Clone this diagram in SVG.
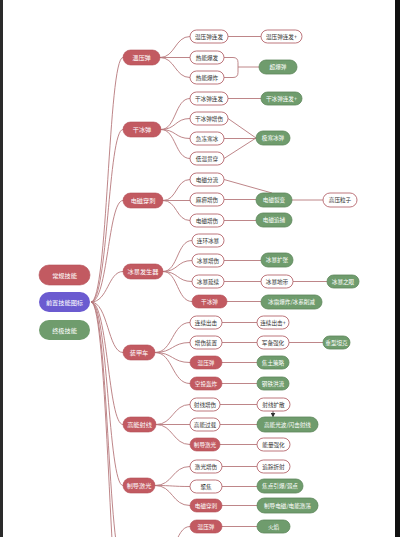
<svg xmlns="http://www.w3.org/2000/svg" width="400" height="537" viewBox="0 0 400 537">
<style>
.e{fill:none;stroke:#b7787c;stroke-width:0.9}
.r rect{fill:#c25a61;stroke:#b34e55;stroke-width:0.6}
.w rect{fill:#fff;stroke:#b5676d;stroke-width:0.9}
.g rect{fill:#6f9c6d;stroke:#5d865b;stroke-width:0.8}
.p rect{fill:#6b5bd0}
text{font-family:"Noto Sans CJK SC","Noto Sans",sans-serif;font-size:5.6px;text-anchor:middle;dominant-baseline:central}
.r text,.g text,.p text{fill:#fff}
.w text{fill:#333}
.L text{font-size:6.2px}
</style>
<rect width="400" height="537" fill="#fff"/>
<rect x="0" y="0" width="3" height="537" fill="#2a2a2a"/>
<rect x="395" y="0" width="5" height="537" fill="#111"/>
<defs><marker id="ah" markerWidth="5" markerHeight="5" refX="4" refY="2.5" orient="auto" markerUnits="userSpaceOnUse"><path d="M0,0 L5,2.5 L0,5 z" fill="#333"/></marker></defs>
<g id="connectors">
<path class="e" d="M91,302 C108,302 108,57.5 123,57.5"/>
<path class="e" d="M91,302 C108,302 108,129.5 123,129.5"/>
<path class="e" d="M91,302 C108,302 108,200.5 123,200.5"/>
<path class="e" d="M91,302 C108,302 108,271.5 123,271.5"/>
<path class="e" d="M91,302 C108,302 108,352.5 123,352.5"/>
<path class="e" d="M91,302 C108,302 108,424.5 123,424.5"/>
<path class="e" d="M91,302 C108,302 108,485.5 123,485.5"/>
<path class="e" d="M91,302 C108,302 108,565 123,565"/>
<path class="e" d="M91,302 C108,302 110,640 123,640"/>
<path class="e" d="M160,57.5 C175,57.5 175,36.5 190,36.5"/>
<path class="e" d="M160,57.5 H190"/>
<path class="e" d="M160,57.5 C175,57.5 175,77.5 190,77.5"/>
<path class="e" d="M161,129.5 C176,129.5 175,98.5 190,98.5"/>
<path class="e" d="M161,129.5 C176,129.5 175,118.5 190,118.5"/>
<path class="e" d="M161,129.5 C176,129.5 175,138.5 190,138.5"/>
<path class="e" d="M161,129.5 C176,129.5 175,158.5 190,158.5"/>
<path class="e" d="M163,200.5 C177,200.5 176,179.5 190,179.5"/>
<path class="e" d="M163,200.5 H190"/>
<path class="e" d="M163,200.5 C177,200.5 176,220.5 190,220.5"/>
<path class="e" d="M163,271.5 C178,271.5 177,240.5 192,240.5"/>
<path class="e" d="M163,271.5 C178,271.5 177,260.5 192,260.5"/>
<path class="e" d="M163,271.5 C178,271.5 177,281.5 192,281.5"/>
<path class="e" d="M163,271.5 C178,271.5 177,301.5 192,301.5"/>
<path class="e" d="M155,352.5 C173,352.5 172,322.5 190,322.5"/>
<path class="e" d="M155,352.5 C173,352.5 172,342.5 190,342.5"/>
<path class="e" d="M155,352.5 C173,352.5 172,362.5 190,362.5"/>
<path class="e" d="M155,352.5 C173,352.5 172,383.5 190,383.5"/>
<path class="e" d="M156,424.5 C173,424.5 173,404.5 190,404.5"/>
<path class="e" d="M156,424.5 H190"/>
<path class="e" d="M156,424.5 C173,424.5 173,444.5 190,444.5"/>
<path class="e" d="M155,485.5 C173,485.5 172,466.5 190,466.5"/>
<path class="e" d="M155,485.5 C173,485.5 172,486.5 190,486.5"/>
<path class="e" d="M155,485.5 C173,485.5 172,505.5 190,505.5"/>
<path class="e" d="M158,565 C175,565 174,526.5 190,526.5"/>
<path class="e" d="M228,36.5 H261"/>
<path class="e" d="M224,57.5 H233 Q238,57.5 238,62.5 V72.5 Q238,77.5 233,77.5 H224 M238,67 H259"/>
<path class="e" d="M228,98.5 H261"/>
<path class="e" d="M228,118.5 L256,138 M224,138.5 H256 M224,158.5 L256,138"/>
<path class="e" d="M224,179.5 L272,193"/>
<path class="e" d="M224,199.5 H256"/>
<path class="e" d="M224,220.5 H256"/>
<path class="e" d="M292,200 H323"/>
<path class="e" d="M224,260.5 H261"/>
<path class="e" d="M224,281.5 H261"/>
<path class="e" d="M293,281.5 H327"/>
<path class="e" d="M227,301.5 H261"/>
<path class="e" d="M222,322.5 H257"/>
<path class="e" d="M222,342.5 H257"/>
<path class="e" d="M289,342.5 H323"/>
<path class="e" d="M222,362.5 H257"/>
<path class="e" d="M222,383.5 H257"/>
<path class="e" d="M220,404.5 H257"/>
<path class="e" d="M220,424.5 H257"/>
<path class="e" d="M220,444.5 H257"/>
<path class="e" d="M222,466.5 H257"/>
<path class="e" d="M222,486.5 H257"/>
<path class="e" d="M222,505.5 H257"/>
<path class="e" d="M222,526.5 H257"/>
<path d="M273,410.5 V416.5" stroke="#333" stroke-width="0.8" marker-end="url(#ah)"/>
</g>
<g id="legend-normal" class="r L"><rect x="39" y="265" width="51" height="20" rx="10"/><text x="64.5" y="275">常规技能</text></g>
<g id="legend-pre" class="p L"><rect x="39" y="292" width="51" height="20" rx="10"/><text x="64.5" y="302">前置技能图标</text></g>
<g id="legend-ult" class="g L"><rect x="39" y="320" width="51" height="20" rx="10" style="stroke:none"/><text x="64.5" y="330">终极技能</text></g>
<g id="n-wyd" class="r L"><rect x="123" y="50" width="37" height="15" rx="7.5"/><text x="141.5" y="57.5">温压弹</text></g>
<g id="n-gbd" class="r L"><rect x="123" y="122" width="38" height="15" rx="7.5"/><text x="142" y="129.5">干冰弹</text></g>
<g id="n-dcsc" class="r L"><rect x="123" y="193" width="40" height="15" rx="7.5"/><text x="143" y="200.5">电磁穿刺</text></g>
<g id="n-bbfsq" class="r L"><rect x="123" y="264" width="40" height="15" rx="7.5"/><text x="143" y="271.5">冰暴发生器</text></g>
<g id="n-zjc" class="r L"><rect x="123" y="345" width="32" height="15" rx="7.5"/><text x="139" y="352.5">装甲车</text></g>
<g id="n-gnsx" class="r L"><rect x="123" y="417" width="33" height="15" rx="7.5"/><text x="139.5" y="424.5">高能射线</text></g>
<g id="n-zdjg" class="r L"><rect x="123" y="478" width="32" height="15" rx="7.5"/><text x="139" y="485.5">制导激光</text></g>
<g id="n1" class="w"><rect x="190" y="30" width="38" height="13" rx="6.5"/><text x="209" y="36.5">温压弹连发</text></g>
<g id="n2" class="w"><rect x="190" y="51" width="34" height="13" rx="6.5"/><text x="207" y="57.5">热能爆发</text></g>
<g id="n3" class="w"><rect x="190" y="71" width="34" height="13" rx="6.5"/><text x="207" y="77.5">热能爆炸</text></g>
<g id="n4" class="w"><rect x="190" y="92" width="38" height="13" rx="6.5"/><text x="209" y="98.5">干冰弹连发</text></g>
<g id="n5" class="w"><rect x="190" y="112" width="38" height="13" rx="6.5"/><text x="209" y="118.5">干冰弹增伤</text></g>
<g id="n6" class="w"><rect x="190" y="132" width="34" height="13" rx="6.5"/><text x="207" y="138.5">急冻寒冰</text></g>
<g id="n7" class="w"><rect x="190" y="152" width="34" height="13" rx="6.5"/><text x="207" y="158.5">低温贯穿</text></g>
<g id="n8" class="w"><rect x="190" y="173" width="34" height="13" rx="6.5"/><text x="207" y="179.5">电磁分流</text></g>
<g id="n9" class="w"><rect x="190" y="193" width="34" height="13" rx="6.5"/><text x="207" y="199.5">麻痹增伤</text></g>
<g id="n10" class="w"><rect x="190" y="214" width="34" height="13" rx="6.5"/><text x="207" y="220.5">电磁增伤</text></g>
<g id="n11" class="w"><rect x="192" y="234" width="32" height="13" rx="6.5"/><text x="208" y="240.5">连环冰暴</text></g>
<g id="n12" class="w"><rect x="192" y="254" width="32" height="13" rx="6.5"/><text x="208" y="260.5">冰暴增伤</text></g>
<g id="n13" class="w"><rect x="192" y="275" width="32" height="13" rx="6.5"/><text x="208" y="281.5">冰暴延续</text></g>
<g id="n14" class="r"><rect x="192" y="295" width="35" height="13" rx="6.5"/><text x="209.5" y="301.5">干冰弹</text></g>
<g id="n15" class="w"><rect x="190" y="316" width="32" height="13" rx="6.5"/><text x="206" y="322.5">连续出击</text></g>
<g id="n16" class="w"><rect x="190" y="336" width="32" height="13" rx="6.5"/><text x="206" y="342.5">增伤装置</text></g>
<g id="n17" class="r"><rect x="190" y="356" width="32" height="13" rx="6.5"/><text x="206" y="362.5">温压弹</text></g>
<g id="n18" class="r"><rect x="190" y="377" width="32" height="13" rx="6.5"/><text x="206" y="383.5">空投轰炸</text></g>
<g id="n19" class="w"><rect x="190" y="398" width="30" height="13" rx="6.5"/><text x="205" y="404.5">射线增伤</text></g>
<g id="n20" class="w"><rect x="190" y="418" width="30" height="13" rx="6.5"/><text x="205" y="424.5">高能过载</text></g>
<g id="n21" class="r"><rect x="190" y="438" width="30" height="13" rx="6.5"/><text x="205" y="444.5">制导激光</text></g>
<g id="n22" class="w"><rect x="190" y="460" width="32" height="13" rx="6.5"/><text x="206" y="466.5">激光增伤</text></g>
<g id="n23" class="w"><rect x="190" y="480" width="32" height="13" rx="6.5"/><text x="206" y="486.5">聚焦</text></g>
<g id="n24" class="r"><rect x="190" y="499" width="32" height="13" rx="6.5"/><text x="206" y="505.5">电磁穿刺</text></g>
<g id="n25" class="r"><rect x="190" y="520" width="32" height="13" rx="6.5"/><text x="206" y="526.5">温压弹</text></g>
<g id="m1" class="w"><rect x="261" y="30" width="41" height="13" rx="6.5"/><text x="281.5" y="36.5">温压弹连发+</text></g>
<g id="m2" class="g"><rect x="259" y="60" width="38" height="14" rx="7"/><text x="278" y="67">超爆弹</text></g>
<g id="m3" class="g"><rect x="261" y="92" width="41" height="13" rx="6.5"/><text x="281.5" y="98.5">干冰弹连发+</text></g>
<g id="m4" class="g"><rect x="256" y="131" width="34" height="14" rx="7"/><text x="273" y="138">极寒冰弹</text></g>
<g id="m5" class="g"><rect x="256" y="193" width="36" height="14" rx="7"/><text x="274" y="200">电磁裂变</text></g>
<g id="m6" class="w"><rect x="323" y="193" width="34" height="14" rx="7"/><text x="340" y="200">高压粒子</text></g>
<g id="m7" class="g"><rect x="256" y="213" width="36" height="14" rx="7"/><text x="274" y="220">电磁追捕</text></g>
<g id="m8" class="g"><rect x="261" y="253" width="32" height="14" rx="7"/><text x="277" y="260">冰暴扩张</text></g>
<g id="m9" class="w"><rect x="261" y="275" width="32" height="13" rx="6.5"/><text x="277" y="281.5">冰暴地带</text></g>
<g id="m10" class="g"><rect x="327" y="275" width="32" height="13" rx="6.5"/><text x="343" y="281.5">冰暴之眼</text></g>
<g id="m11" class="g"><rect x="261" y="295" width="61" height="14" rx="7"/><text x="291.5" y="302">冰霜爆炸/冰系削减</text></g>
<g id="m12" class="w"><rect x="257" y="316" width="32" height="13" rx="6.5"/><text x="273" y="322.5">连续出击+</text></g>
<g id="m13" class="w"><rect x="257" y="336" width="32" height="13" rx="6.5"/><text x="273" y="342.5">军备强化</text></g>
<g id="m14" class="g"><rect x="323" y="336" width="27" height="13" rx="6.5"/><text x="336.5" y="342.5">重型坦克</text></g>
<g id="m15" class="g"><rect x="257" y="356" width="32" height="13" rx="6.5"/><text x="273" y="362.5">焦土策略</text></g>
<g id="m16" class="g"><rect x="257" y="377" width="32" height="13" rx="6.5"/><text x="273" y="383.5">钢铁洪流</text></g>
<g id="m17" class="w"><rect x="257" y="398" width="33" height="13" rx="6.5"/><text x="273.5" y="404.5">射线扩散</text></g>
<g id="m18" class="g"><rect x="257" y="417" width="61" height="15" rx="7.5"/><text x="287.5" y="424.5">高能光波/闪击射线</text></g>
<g id="m19" class="w"><rect x="257" y="438" width="33" height="13" rx="6.5"/><text x="273.5" y="444.5">能量强化</text></g>
<g id="m20" class="w"><rect x="257" y="460" width="33" height="13" rx="6.5"/><text x="273.5" y="466.5">追踪折射</text></g>
<g id="m21" class="g"><rect x="257" y="479" width="46" height="14" rx="7"/><text x="280" y="486">焦点引爆/弱点</text></g>
<g id="m22" class="g"><rect x="257" y="498" width="61" height="15" rx="7.5"/><text x="287.5" y="505.5">制导电磁/电能激荡</text></g>
<g id="m23" class="g"><rect x="257" y="520" width="33" height="13" rx="6.5"/><text x="273.5" y="526.5">火焰</text></g>
</svg>
